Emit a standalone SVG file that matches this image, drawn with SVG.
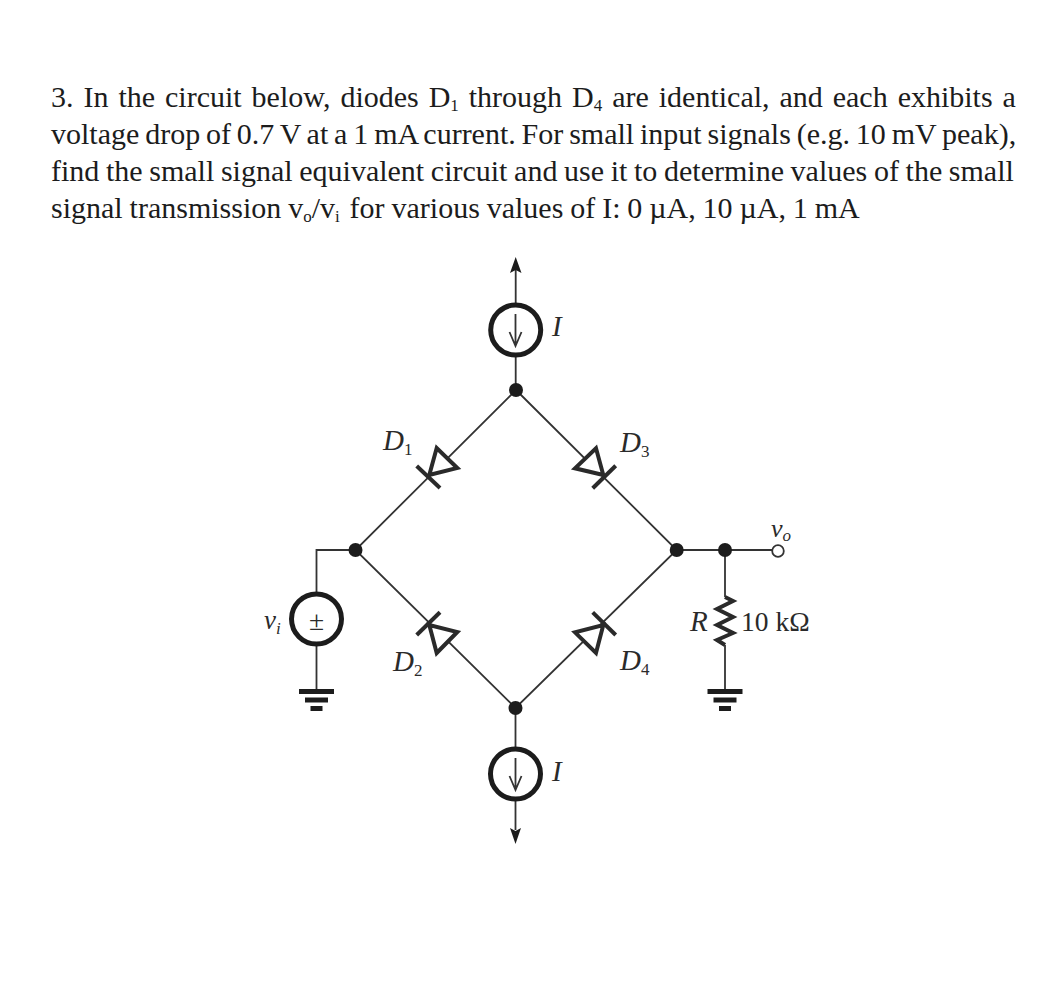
<svg xmlns="http://www.w3.org/2000/svg" width="1044" height="999" viewBox="0 0 1044 999">
<style>
.t{font-family:"Liberation Serif","Times New Roman",serif;font-size:30px;fill:#1c1c1c}
.s{font-size:17px}
.u{font-style:normal}
.l{font-family:"Liberation Serif","Times New Roman",serif;font-style:italic;font-size:29px;fill:#2a2a2a}
.l2{font-family:"Liberation Serif","Times New Roman",serif;font-size:27.500px;fill:#2a2a2a}
.w{fill:none;stroke:#333;stroke-width:1.8}
.c{fill:#fff;stroke:#1c1c1c;stroke-width:5}
.d{fill:#fff;stroke:#2a2a2a;stroke-width:4}
.b{fill:none;stroke:#2a2a2a;stroke-width:4}
.j{fill:#1c1c1c}
.g{fill:#1c1c1c}
</style>
<defs>
<g id="gnd"><rect class="g" x="-17.5" y="-2.5" width="35" height="5"/><rect class="g" x="-11.5" y="6" width="23" height="5"/><rect class="g" x="-6" y="14.5" width="12" height="5"/></g>
</defs>
<g id="problem-text">
<text class="t" x="51" y="107" word-spacing="2.45">3. In the circuit below, diodes D<tspan class="s" dy="4">1</tspan><tspan dy="-4"> through D</tspan><tspan class="s" dy="4">4</tspan><tspan dy="-4"> are identical, and each exhibits a</tspan></text>
<text class="t" x="51" y="144" word-spacing="-1.65">voltage drop of 0.7 V at a 1 mA current. For small input signals (e.g. 10 mV peak),</text>
<text class="t" x="51" y="181" word-spacing="-0.85">find the small signal equivalent circuit and use it to determine values of the small</text>
<text class="t" x="51" y="218" word-spacing="-0.6">signal transmission v<tspan class="s" dy="4">o</tspan><tspan dy="-4">/v</tspan><tspan class="s" dy="4">i</tspan><tspan dy="-4" dx="3"> for various values of I: 0 µA, 10 µA, 1 mA</tspan></text>
</g>
<g id="connectors">
<path class="w" d="M516 390L355.500 550L515.500 708L676.700 550L516 390"/>
<path class="w" d="M355.500 550H316.500V594M316.500 644V691M676.700 550H772M725 550V597M725 645V691"/>
<path class="w" d="M515.700 390V356M515.700 304V268M515.500 708V748M515.500 800V830"/>
</g>
<g id="source-top"><circle class="c" cx="515.700" cy="330" r="25"/><path class="w" d="M515.500 314V345M509.500 332L515.500 346L521.500 332" stroke-width="2"/><path class="j" d="M515.700 257L521.500 273L515.700 270L510 273Z"/><text class="l" x="552" y="336">I</text></g>
<g id="source-bottom"><circle class="c" cx="515.500" cy="774" r="25"/><path class="w" d="M515.500 758V789M509.500 776L515.500 790L521.500 776" stroke-width="2"/><path class="j" d="M515.500 844L510 828L515.500 831L521 828Z"/><text class="l" x="552" y="781">I</text></g>
<g id="source-vi"><circle class="c" cx="316.500" cy="619" r="25"/><text class="l2" x="316.500" y="630" text-anchor="middle">±</text><text class="l" x="264" y="629" style="font-size:27px">v<tspan class="s" dy="5" style="font-size:17px">i</tspan></text><use href="#gnd" x="316.500" y="691.500"/></g>
<g id="D1"><path class="d" d="M429.300 475L436.700 448L457.300 468Z"/><path class="b" d="M416.700 466L440 488"/><text class="l" x="383" y="450">D<tspan class="s u" dy="5">1</tspan></text></g>
<g id="D2"><path class="d" d="M429.300 625L436.700 653L457.300 632Z"/><path class="b" d="M416.700 635L440 612.300"/><text class="l" x="393" y="671">D<tspan class="s u" dy="5">2</tspan></text></g>
<g id="D3"><path class="d" d="M603.300 475L596 448.300L575 468.300Z"/><path class="b" d="M615.700 465.700L592.700 488.300"/><text class="l" x="620" y="452">D<tspan class="s u" dy="5">3</tspan></text></g>
<g id="D4"><path class="d" d="M603.300 625L596 653L575 632.300Z"/><path class="b" d="M615.700 635L592.700 612.300"/><text class="l" x="620" y="670">D<tspan class="s u" dy="5">4</tspan></text></g>
<g id="node-left"><circle class="j" cx="355.500" cy="550" r="7"/></g>
<g id="node-top"><circle class="j" cx="516" cy="390" r="7"/></g>
<g id="node-bottom"><circle class="j" cx="515.500" cy="708" r="7"/></g>
<g id="node-right"><circle class="j" cx="676.700" cy="550" r="7"/></g>
<g id="node-out"><circle class="j" cx="725" cy="550" r="7"/></g>
<g id="terminal-vo"><circle cx="778" cy="551" r="5.800" fill="#fff" stroke="#333" stroke-width="1.800"/><text class="l" x="771" y="537" style="font-size:26px">v<tspan class="s" dy="4" style="font-size:17px">o</tspan></text></g>
<g id="resistor"><path class="b" d="M725 597L733 601L717 609L733 617L717 625L733 633L717 640L725 645"/><text class="l" x="690" y="631">R</text><text class="l2" x="741" y="631">10 kΩ</text><use href="#gnd" x="725" y="691.500"/></g>
</svg>
